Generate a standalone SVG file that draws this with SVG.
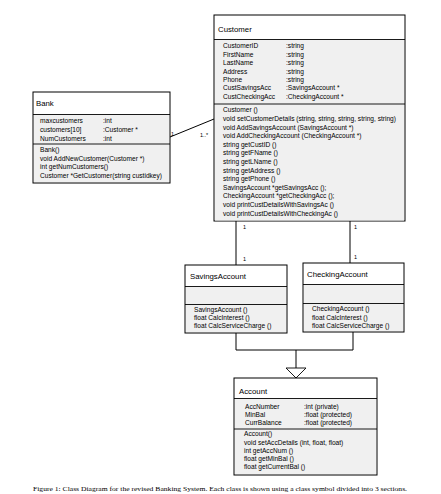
<svg xmlns="http://www.w3.org/2000/svg" width="441" height="494" viewBox="0 0 441 494">
<style>
.box{fill:#ffffff;stroke:#000;stroke-width:1}
.sec{fill:#f0f0f0;stroke:none}
.sep{stroke:#000;stroke-width:0.9}
.t{font-family:"Liberation Sans",Arial,sans-serif;font-size:6.6px;fill:#000}
.h{font-family:"Liberation Sans",Arial,sans-serif;font-size:7.8px;fill:#000}
.m{font-family:"Liberation Sans",Arial,sans-serif;font-size:5.5px;fill:#000}
.ln{fill:none;stroke:#000;stroke-width:1}
.cap{font-family:"Liberation Serif","Times New Roman",serif;font-size:6.8px;fill:#000}
</style>
<rect width="441" height="494" fill="#fff"/>
<g id="connectors">
<line class="ln" x1="170" y1="137" x2="214" y2="119"/>
<text class="m" x="171" y="136">1</text>
<text class="m" x="200" y="137">1..*</text>
<line class="ln" x1="236" y1="221" x2="236" y2="265"/>
<text class="m" x="243" y="229">1</text>
<text class="m" x="243" y="261">1</text>
<line class="ln" x1="350" y1="221" x2="350" y2="263"/>
<text class="m" x="354" y="229">1</text>
<text class="m" x="354" y="259">1</text>
<polyline class="ln" points="236,333 236,350 353,350 353,332"/>
<line class="ln" x1="296" y1="350" x2="296" y2="368"/>
<polygon points="286,368 306,368 296,378" fill="#fff" stroke="#000" stroke-width="0.9"/>
</g>
<g id="customer">
<rect class="box" x="214" y="15" width="191" height="206"/>
<rect class="sec" x="215" y="40" width="189" height="180.5"/>
<line class="sep" x1="214" y1="39.5" x2="405" y2="39.5"/>
<line class="sep" x1="214" y1="104" x2="405" y2="104"/>
<text class="h" x="218" y="31.5">Customer</text>
<g class="t">
<text x="223" y="48.3">CustomerID</text><text x="286" y="48.3">:string</text>
<text x="223" y="56.7">FirstName</text><text x="286" y="56.7">:string</text>
<text x="223" y="65.1">LastName</text><text x="286" y="65.1">:string</text>
<text x="223" y="73.5">Address</text><text x="286" y="73.5">:string</text>
<text x="223" y="81.9">Phone</text><text x="286" y="81.9">:string</text>
<text x="223" y="90.3">CustSavingsAcc</text><text x="286" y="90.3">:SavingsAccount *</text>
<text x="223" y="98.7">CustCheckingAcc</text><text x="286" y="98.7">:CheckingAccount *</text>
<text x="223" y="112.3">Customer ()</text>
<text x="223" y="120.9">void setCustomerDetails (string, string, string, string, string)</text>
<text x="223" y="129.5">void AddSavingsAccount (SavingsAccount *)</text>
<text x="223" y="138.1">void AddCheckingAccount (CheckingAccount *)</text>
<text x="223" y="146.7">string getCustID ()</text>
<text x="223" y="155.3">string getFName ()</text>
<text x="223" y="163.9">string getLName ()</text>
<text x="223" y="172.5">string getAddress ()</text>
<text x="223" y="181.1">string getPhone ()</text>
<text x="223" y="189.7">SavingsAccount *getSavingsAcc ();</text>
<text x="223" y="198.3">CheckingAccount *getCheckingAcc ();</text>
<text x="223" y="206.9">void printCustDetailsWithSavingsAc ()</text>
<text x="223" y="215.5">void printCustDetailsWithCheckingAc ()</text>
</g>
</g>
<g id="bank">
<rect class="box" x="33" y="92" width="137" height="91"/>
<rect class="sec" x="34" y="115" width="135" height="67"/>
<line class="sep" x1="33" y1="114.5" x2="170" y2="114.5"/>
<line class="sep" x1="33" y1="144" x2="170" y2="144"/>
<text class="h" x="36" y="106">Bank</text>
<g class="t">
<text x="40" y="123.3">maxcustomers</text><text x="103" y="123.3">:int</text>
<text x="40" y="132.3">customers[10]</text><text x="103" y="132.3">:Customer *</text>
<text x="40" y="141.3">NumCustomers</text><text x="103" y="141.3">:int</text>
<text x="40" y="152.3">Bank()</text>
<text x="40" y="160.8">void AddNewCustomer(Customer *)</text>
<text x="40" y="169.3">int getNumCustomers()</text>
<text x="40" y="177.8">Customer *GetCustomer(string custidkey)</text>
</g>
</g>
<g id="savings">
<rect class="box" x="185" y="265" width="102" height="68"/>
<rect class="sec" x="186" y="287" width="100" height="45"/>
<line class="sep" x1="185" y1="286.5" x2="287" y2="286.5"/>
<line class="sep" x1="185" y1="304.5" x2="287" y2="304.5"/>
<text class="h" x="190" y="278.5">SavingsAccount</text>
<g class="t">
<text x="194" y="311.8">SavingsAccount ()</text>
<text x="194" y="319.8">float CalcInterest ()</text>
<text x="194" y="328.3">float CalcServiceCharge ()</text>
</g>
</g>
<g id="checking">
<rect class="box" x="303" y="263" width="101" height="69"/>
<rect class="sec" x="304" y="285" width="99" height="46"/>
<line class="sep" x1="303" y1="284.5" x2="404" y2="284.5"/>
<line class="sep" x1="303" y1="303.5" x2="404" y2="303.5"/>
<text class="h" x="307" y="276.5">CheckingAccount</text>
<g class="t">
<text x="312" y="311.3">CheckingAccount ()</text>
<text x="312" y="319.8">float CalcInterest ()</text>
<text x="312" y="328.3">float CalcServiceCharge ()</text>
</g>
</g>
<g id="account">
<rect class="box" x="234" y="378" width="143" height="97"/>
<rect class="sec" x="235" y="399" width="141" height="75"/>
<line class="sep" x1="234" y1="398.5" x2="377" y2="398.5"/>
<line class="sep" x1="234" y1="429" x2="377" y2="429"/>
<text class="h" x="239" y="393.5">Account</text>
<g class="t">
<text x="245" y="409.3">AccNumber</text><text x="304" y="409.3">:int (private)</text>
<text x="245" y="417.3">MinBal</text><text x="304" y="417.3">:float (protected)</text>
<text x="245" y="425.3">CurrBalance</text><text x="304" y="425.3">:float (protected)</text>
<text x="244" y="436.3">Account()</text>
<text x="244" y="444.8">void setAccDetails (int, float, float)</text>
<text x="244" y="453.3">int getAccNum ()</text>
<text x="244" y="461.3">float getMinBal ()</text>
<text x="244" y="469.3">float getCurrentBal ()</text>
</g>
</g>
<text class="cap" x="33" y="491" textLength="374" lengthAdjust="spacingAndGlyphs">Figure 1: Class Diagram for the revised Banking System. Each class is shown using a class symbol divided into 3 sections.</text>
</svg>
